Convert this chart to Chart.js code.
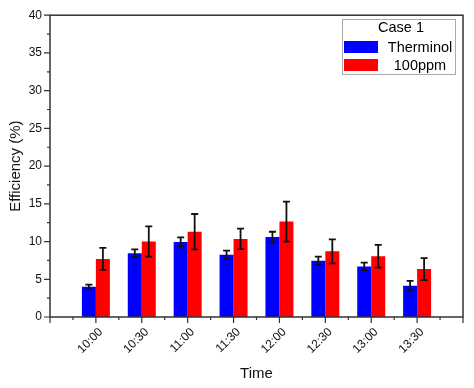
<!DOCTYPE html>
<html>
<head>
<meta charset="utf-8">
<script src="https://cdn.jsdelivr.net/npm/chart.js@4/dist/chart.umd.min.js"></script>
<style>
  html, body { margin: 0; padding: 0; background: #fff; }
  #wrap { width: 474px; height: 388px; }
</style>
</head>
<body>
<div id="wrap"><canvas id="chart" width="474" height="388"></canvas></div>
<script>
// Time slots on the x axis
const times = ['10:00', '10:30', '11:00', '11:30', '12:00', '12:30', '13:00', '13:30'];

// Efficiency (%) and error bar half-heights
const therminol    = [4.0, 8.45, 9.95, 8.25, 10.6, 7.45, 6.7, 4.15];
const therminolErr = [0.3, 0.5, 0.6, 0.55, 0.7, 0.55, 0.5, 0.65];
const ppm100       = [7.7, 10.0, 11.3, 10.35, 12.65, 8.7, 8.05, 6.35];
const ppm100Err    = [1.45, 2.0, 2.35, 1.35, 2.65, 1.6, 1.5, 1.45];

// y tick labels
const yTicks = [0, 5, 10, 15, 20, 25, 30, 35, 40];

const FONT = '"Liberation Sans", Arial, sans-serif';
const AXIS_COLOR = '#333';

function toPoints(values) {
    return values.map((v, i) => ({ x: i, y: v }));
}

// Black error bars with small caps
const errorBars = {
    id: 'errorBars',
    afterDatasetsDraw(chart) {
        const ctx = chart.ctx;
        const yScale = chart.scales.y;
        ctx.save();
        ctx.strokeStyle = '#111';
        ctx.lineWidth = 1.8;
        chart.data.datasets.forEach((ds, di) => {
            const meta = chart.getDatasetMeta(di);
            meta.data.forEach((bar, j) => {
                const v = ds.data[j].y;
                const e = ds.errors[j];
                const top = yScale.getPixelForValue(v + e);
                const bot = yScale.getPixelForValue(v - e);
                const x = bar.x;
                ctx.beginPath();
                ctx.moveTo(x, top); ctx.lineTo(x, bot);
                ctx.moveTo(x - 3.5, top); ctx.lineTo(x + 3.5, top);
                ctx.moveTo(x - 3.5, bot); ctx.lineTo(x + 3.5, bot);
                ctx.stroke();
            });
        });
        ctx.restore();
    }
};

// Plot frame, major/minor tick marks and boxed legend
const frameAndLegend = {
    id: 'frameAndLegend',
    afterDraw(chart) {
        const ctx = chart.ctx;
        const a = chart.chartArea;
        const xs = chart.scales.x, ys = chart.scales.y;
        ctx.save();
        ctx.strokeStyle = AXIS_COLOR;
        ctx.lineWidth = 1.5;
        ctx.strokeRect(a.left, a.top, a.right - a.left, a.bottom - a.top);

        ctx.lineWidth = 1.2;
        ctx.beginPath();
        for (let v = xs.min; v <= xs.max + 1e-6; v += 0.5) {
            const px = xs.getPixelForValue(v);
            const len = Number.isInteger(v) ? 6 : 3;
            ctx.moveTo(px, a.bottom); ctx.lineTo(px, a.bottom + len);
        }
        for (let v = ys.min; v <= ys.max + 1e-6; v += 2.5) {
            const py = ys.getPixelForValue(v);
            const len = (v % 5 === 0) ? 6 : 3;
            ctx.moveTo(a.left, py); ctx.lineTo(a.left - len, py);
        }
        ctx.stroke();

        // legend
        const lx = 342, ly = 19, lw = 113, lh = 55;
        ctx.fillStyle = '#fff';
        ctx.fillRect(lx, ly, lw, lh);
        ctx.strokeStyle = '#aaa';
        ctx.lineWidth = 1;
        ctx.strokeRect(lx + 0.5, ly + 0.5, lw, lh);
        ctx.fillStyle = '#000';
        ctx.font = '14.5px ' + FONT;
        ctx.textAlign = 'center';
        ctx.textBaseline = 'middle';
        ctx.fillText('Case 1', 401, 28);
        chart.data.datasets.forEach((ds, i) => {
            const y = 41 + i * 18;
            ctx.fillStyle = ds.backgroundColor;
            ctx.fillRect(344, y, 34, 12);
            ctx.fillStyle = '#000';
            ctx.fillText(ds.label, 420, y + 6.5);
        });
        ctx.restore();
    }
};

new Chart(document.getElementById('chart'), {
    type: 'bar',
    data: {
        datasets: [
            {
                label: 'Therminol',
                data: toPoints(therminol),
                errors: therminolErr,
                backgroundColor: '#0000ff'
            },
            {
                label: '100ppm',
                data: toPoints(ppm100),
                errors: ppm100Err,
                backgroundColor: '#ff0000'
            }
        ]
    },
    options: {
        responsive: false,
        animation: false,
        devicePixelRatio: 1,
        categoryPercentage: 0.61,
        barPercentage: 1.0,
        layout: { padding: { top: 13, right: 11, left: 0, bottom: 0 } },
        plugins: {
            legend: { display: false },
            tooltip: { enabled: false }
        },
        scales: {
            x: {
                type: 'linear',
                min: -1,
                max: 8,
                offset: false,
                grid: { display: false, drawTicks: false, offset: false },
                border: { display: false },
                afterBuildTicks(scale) {
                    scale.ticks = times.map((t, i) => ({ value: i }));
                },
                afterFit(scale) { scale.height = 71; },
                ticks: {
                    color: '#111',
                    font: { family: FONT, size: 12 },
                    minRotation: 45,
                    maxRotation: 45,
                    padding: 8,
                    labelOffset: 5,
                    autoSkip: false,
                    callback: (v) => times[v]
                },
                title: {
                    display: true,
                    text: 'Time',
                    color: '#111',
                    font: { family: FONT, size: 15 },
                    padding: { top: 0, bottom: 5 }
                }
            },
            y: {
                min: 0,
                max: 40,
                grid: { display: false, drawTicks: false },
                border: { display: false },
                afterBuildTicks(scale) {
                    scale.ticks = yTicks.map(v => ({ value: v }));
                },
                afterFit(scale) { scale.width = 50; },
                ticks: {
                    color: '#111',
                    font: { family: FONT, size: 12 },
                    padding: 8
                },
                title: {
                    display: true,
                    text: 'Efficiency (%)',
                    color: '#111',
                    font: { family: FONT, size: 15 },
                    padding: { top: 7, bottom: 0 }
                }
            }
        }
    },
    plugins: [errorBars, frameAndLegend]
});
</script>
</body>
</html>
